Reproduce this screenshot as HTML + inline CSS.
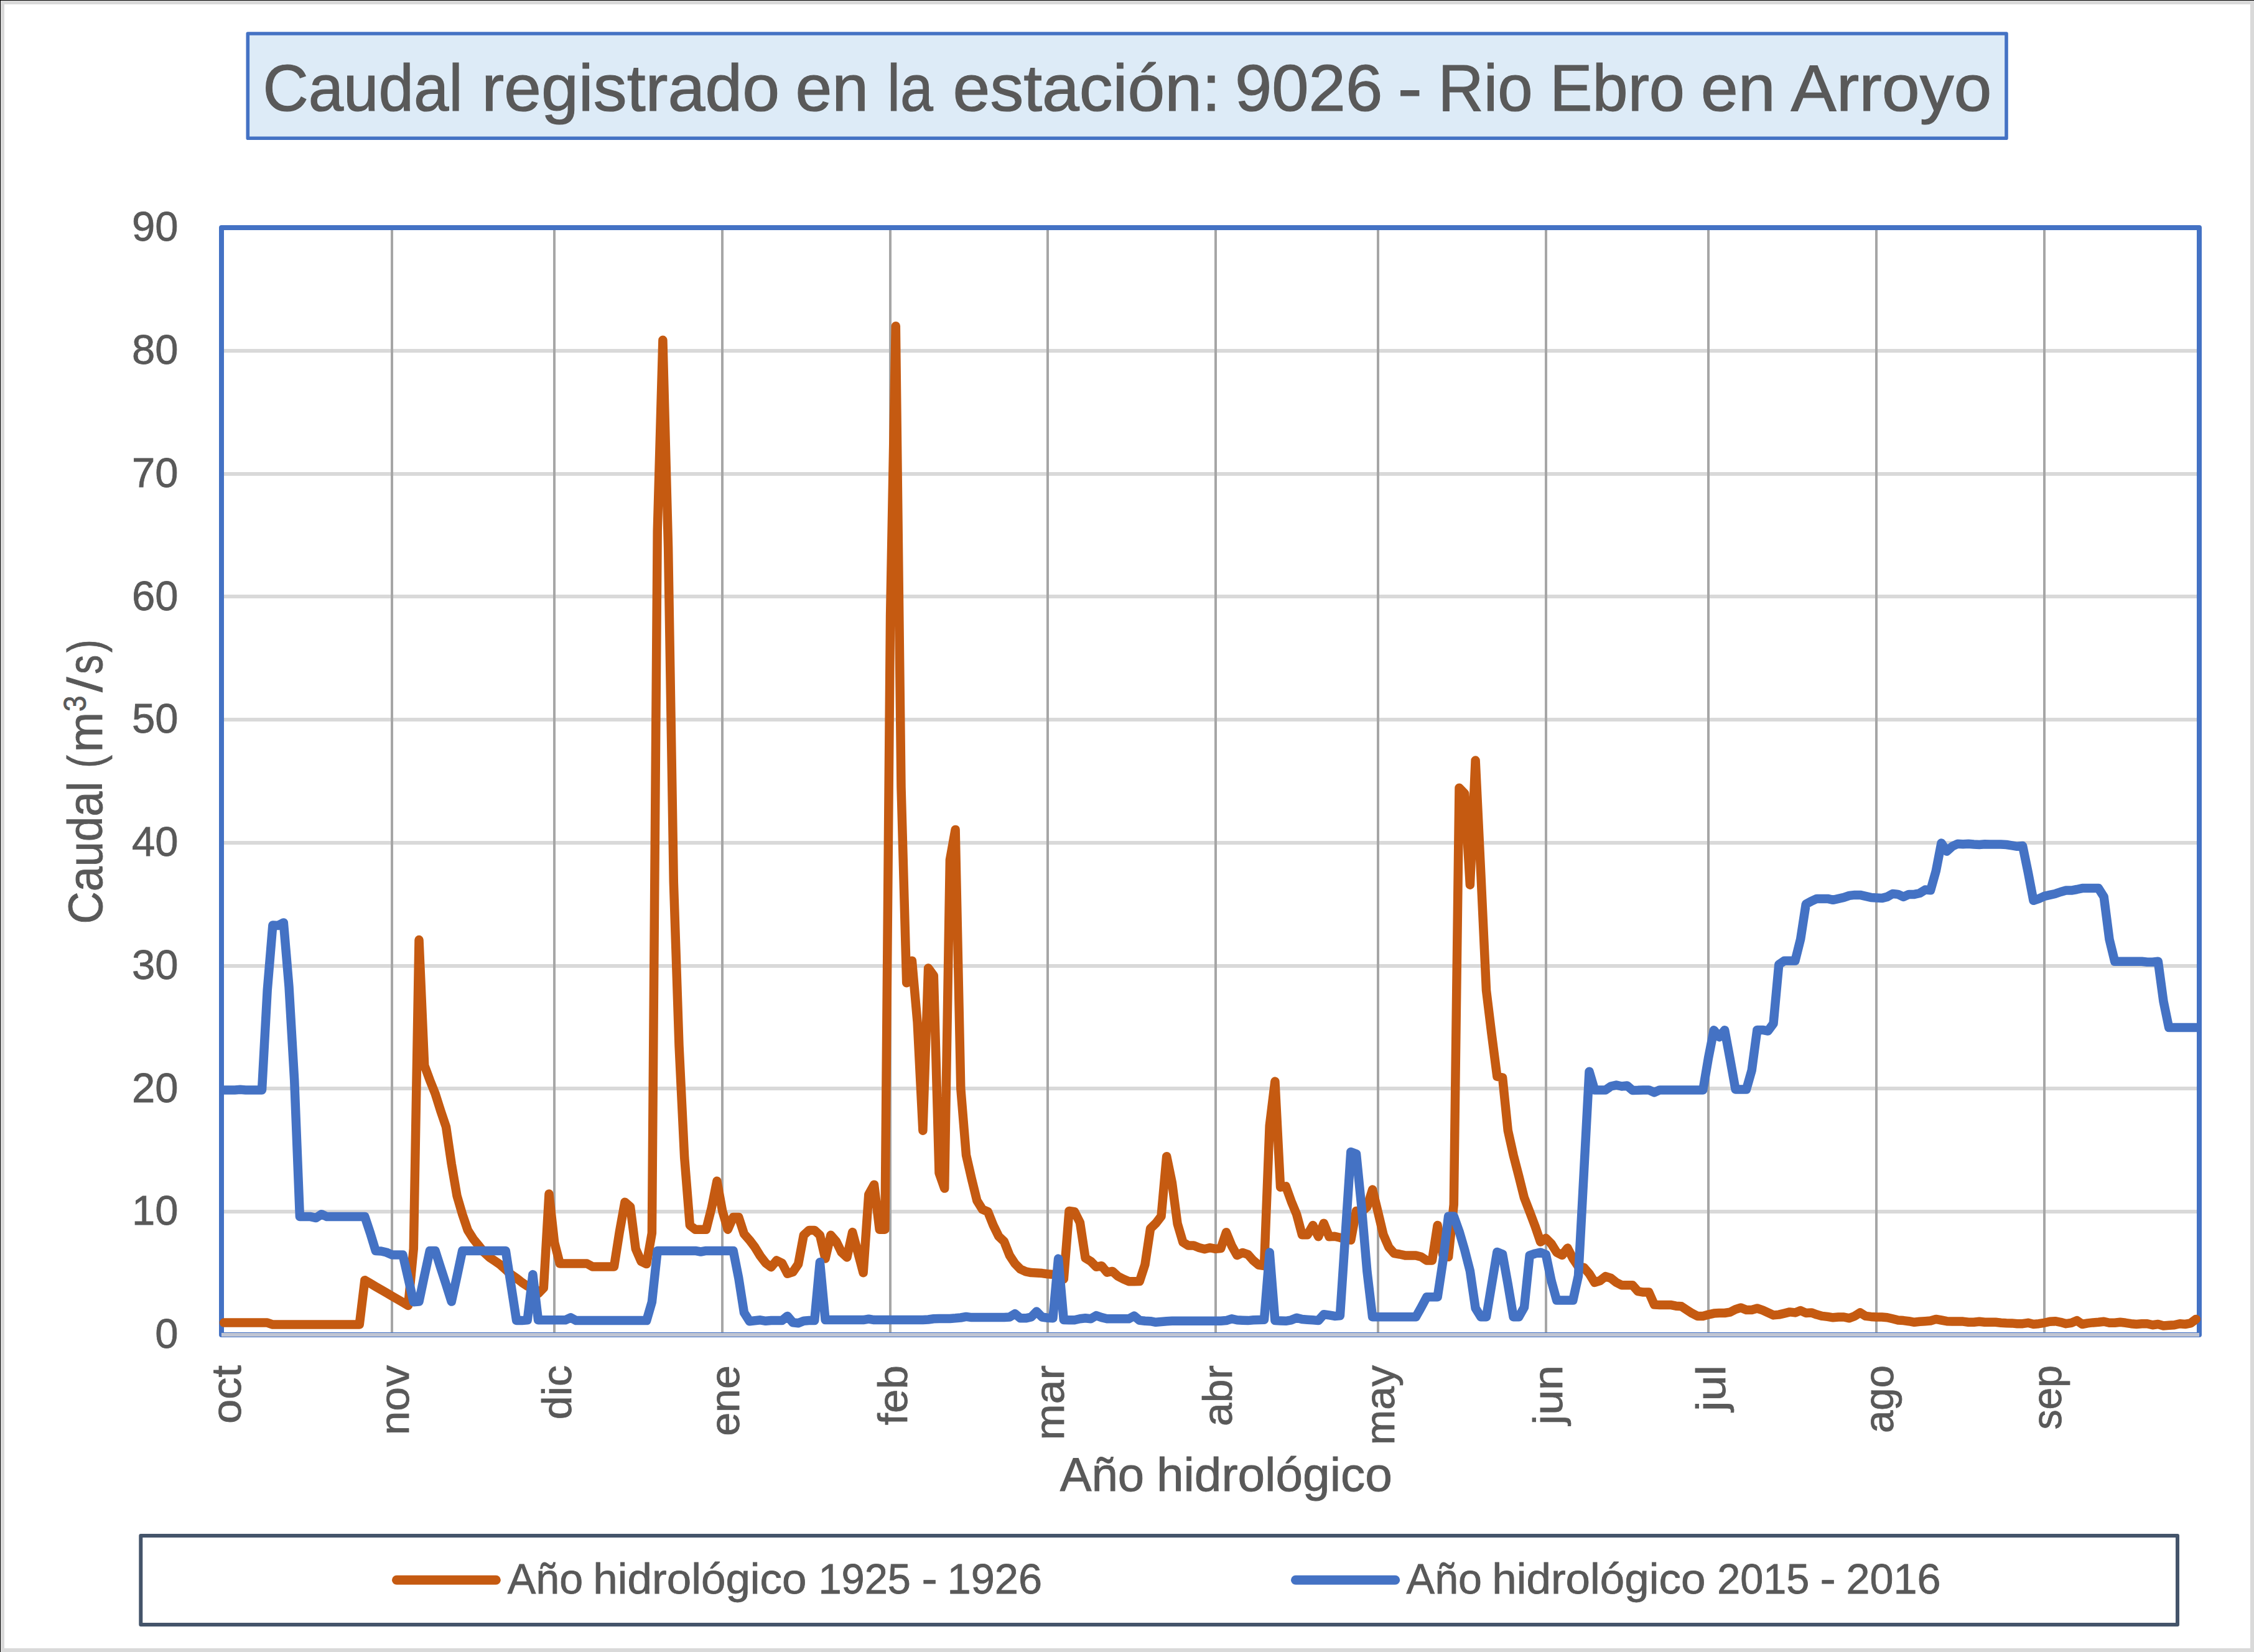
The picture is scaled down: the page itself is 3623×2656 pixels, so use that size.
<!DOCTYPE html>
<html lang="es"><head><meta charset="utf-8"><title>Caudal registrado en la estación: 9026 - Rio Ebro en Arroyo</title>
<style>html,body{margin:0;padding:0;background:#fff;}body{width:3623px;height:2656px;overflow:hidden;}svg{display:block;}text{font-family:"Liberation Sans", sans-serif;fill:#595959;}</style>
</head><body>
<svg width="3623" height="2656" viewBox="0 0 3623 2656">
<rect x="0" y="0" width="3623" height="2656" fill="#ffffff"/>
<rect x="4" y="4" width="3616" height="2649" fill="none" stroke="#D9D9D9" stroke-width="6"/>
<rect x="0" y="0" width="3623" height="1" fill="#000"/>
<rect x="0" y="0" width="1" height="2656" fill="#000"/>
<rect x="398.3" y="54" width="2826.7" height="168.2" fill="#DDEBF7" stroke="#4472C4" stroke-width="5.6" stroke-linejoin="round"/>
<text y="178.2" font-size="106" stroke="#595959" stroke-width="1.2"><tspan x="422.4" textLength="321.5" lengthAdjust="spacingAndGlyphs">Caudal</tspan> <tspan x="774.2" textLength="479.0" lengthAdjust="spacingAndGlyphs">registrado</tspan> <tspan x="1278.4" textLength="117.7" lengthAdjust="spacingAndGlyphs">en</tspan> <tspan x="1426.0" textLength="73.9" lengthAdjust="spacingAndGlyphs">la</tspan> <tspan x="1531.6" textLength="430.4" lengthAdjust="spacingAndGlyphs">estación:</tspan> <tspan x="1984.9" textLength="237.4" lengthAdjust="spacingAndGlyphs">9026</tspan> <tspan x="2246.5" textLength="39.5" lengthAdjust="spacingAndGlyphs">-</tspan> <tspan x="2311.6" textLength="152.1" lengthAdjust="spacingAndGlyphs">Rio</tspan> <tspan x="2491.1" textLength="216.8" lengthAdjust="spacingAndGlyphs">Ebro</tspan> <tspan x="2733.7" textLength="120.1" lengthAdjust="spacingAndGlyphs">en</tspan> <tspan x="2878.6" textLength="322.8" lengthAdjust="spacingAndGlyphs">Arroyo</tspan></text>
<rect x="356" y="1945" width="3179" height="6" fill="#D9D9D9"/>
<rect x="356" y="1747" width="3179" height="6" fill="#D9D9D9"/>
<rect x="356" y="1550" width="3179" height="6" fill="#D9D9D9"/>
<rect x="356" y="1352" width="3179" height="6" fill="#D9D9D9"/>
<rect x="356" y="1154" width="3179" height="6" fill="#D9D9D9"/>
<rect x="356" y="956" width="3179" height="6" fill="#D9D9D9"/>
<rect x="356" y="759" width="3179" height="6" fill="#D9D9D9"/>
<rect x="356" y="561" width="3179" height="6" fill="#D9D9D9"/>
<rect x="628" y="366" width="4" height="1780" fill="#A6A6A6"/>
<rect x="889" y="366" width="4" height="1780" fill="#A6A6A6"/>
<rect x="1159" y="366" width="4" height="1780" fill="#A6A6A6"/>
<rect x="1429" y="366" width="4" height="1780" fill="#A6A6A6"/>
<rect x="1682" y="366" width="4" height="1780" fill="#A6A6A6"/>
<rect x="1952" y="366" width="4" height="1780" fill="#A6A6A6"/>
<rect x="2213" y="366" width="4" height="1780" fill="#A6A6A6"/>
<rect x="2483" y="366" width="4" height="1780" fill="#A6A6A6"/>
<rect x="2744" y="366" width="4" height="1780" fill="#A6A6A6"/>
<rect x="3014" y="366" width="4" height="1780" fill="#A6A6A6"/>
<rect x="3284" y="366" width="4" height="1780" fill="#A6A6A6"/>
<rect x="356" y="366" width="3179" height="1780" fill="none" stroke="#4472C4" stroke-width="8" stroke-linejoin="round"/>
<rect x="356" y="2143" width="3179" height="6" fill="#C0C5D2"/>
<clipPath id="pc"><rect x="350" y="360" width="3189" height="1792"/></clipPath>
<g clip-path="url(#pc)">
<polyline points="360.0,2126.6 368.7,2126.6 377.4,2126.6 386.1,2126.6 394.8,2126.6 403.5,2126.6 412.2,2126.6 421.0,2126.6 429.7,2126.6 438.4,2129.6 447.1,2129.6 455.8,2129.6 464.5,2129.6 473.2,2129.6 481.9,2129.6 490.6,2129.6 499.3,2129.6 508.0,2129.6 516.7,2129.6 525.5,2129.6 534.2,2129.6 542.9,2129.6 551.6,2129.6 560.3,2129.6 569.0,2129.6 577.7,2129.6 586.4,2058.2 595.1,2063.3 603.8,2068.4 612.5,2073.5 621.2,2078.6 630.0,2083.7 638.7,2088.7 647.4,2093.8 656.1,2098.9 664.8,2007.6 673.5,1511.1 682.2,1712.9 690.9,1736.6 699.6,1758.4 708.3,1786.0 717.0,1811.8 725.7,1871.1 734.5,1922.5 743.2,1952.2 751.9,1977.9 760.6,1991.7 769.3,2002.4 778.0,2013.5 786.7,2021.4 795.4,2027.3 804.1,2033.3 812.8,2041.2 821.5,2049.1 830.2,2055.0 839.0,2061.9 847.7,2067.7 856.4,2071.8 865.1,2079.7 873.8,2070.8 882.5,1919.5 891.2,1997.7 899.9,2031.5 908.6,2031.5 917.3,2031.5 926.0,2031.5 934.7,2031.5 943.4,2031.5 952.2,2036.4 960.9,2036.4 969.6,2036.4 978.3,2036.4 987.0,2036.4 995.7,1981.1 1004.4,1932.8 1013.1,1940.3 1021.8,2007.9 1030.5,2027.9 1039.2,2032.1 1047.9,1982.4 1056.7,854.5 1065.4,546.8 1074.1,880.2 1082.8,1418.2 1091.5,1681.2 1100.2,1861.2 1108.9,1970.0 1117.6,1976.7 1126.3,1976.7 1135.0,1976.7 1143.7,1942.3 1152.4,1898.8 1161.2,1947.0 1169.9,1976.7 1178.6,1956.9 1187.3,1956.9 1196.0,1983.8 1204.7,1993.7 1213.4,2005.2 1222.1,2019.4 1230.8,2030.7 1239.5,2037.2 1248.2,2026.5 1256.9,2030.7 1265.7,2047.7 1274.4,2045.1 1283.1,2032.3 1291.8,1985.8 1300.5,1977.9 1309.2,1977.9 1317.9,1985.8 1326.6,2023.4 1335.3,1985.8 1344.0,1995.7 1352.7,2013.5 1361.4,2021.4 1370.2,1981.1 1378.9,2013.5 1387.6,2046.3 1396.3,1920.5 1405.0,1904.7 1413.7,1976.7 1422.4,1976.7 1431.1,989.0 1439.8,524.2 1448.5,1265.9 1457.2,1580.3 1465.9,1544.7 1474.6,1643.6 1483.4,1817.7 1492.1,1556.6 1500.8,1568.5 1509.5,1885.9 1518.2,1910.6 1526.9,1382.6 1535.6,1333.9 1544.3,1750.4 1553.0,1857.2 1561.7,1895.2 1570.4,1930.4 1579.1,1944.3 1587.9,1948.2 1596.6,1970.0 1605.3,1987.8 1614.0,1996.1 1622.7,2018.2 1631.4,2031.5 1640.1,2040.4 1648.8,2044.3 1657.5,2046.1 1666.2,2046.5 1674.9,2047.1 1683.6,2048.3 1692.4,2048.9 1701.1,2052.1 1709.8,2056.4 1718.5,1947.0 1727.2,1948.2 1735.9,1965.4 1744.6,2022.6 1753.3,2027.9 1762.0,2036.8 1770.7,2035.2 1779.4,2045.7 1788.1,2043.9 1796.9,2051.9 1805.6,2056.4 1814.3,2060.2 1823.0,2060.2 1831.7,2060.0 1840.4,2033.3 1849.1,1975.3 1857.8,1966.8 1866.5,1955.5 1875.2,1859.2 1883.9,1901.5 1892.6,1967.4 1901.4,1997.1 1910.1,2002.6 1918.8,2002.6 1927.5,2006.0 1936.2,2008.3 1944.9,2006.0 1953.6,2007.8 1962.3,2007.0 1971.0,1981.2 1979.7,2002.6 1988.4,2018.2 1997.1,2013.9 2005.8,2016.8 2014.6,2026.7 2023.3,2033.9 2032.0,2035.2 2040.7,1809.8 2049.4,1738.6 2058.1,1908.7 2066.8,1907.3 2075.5,1931.4 2084.2,1952.6 2092.9,1985.2 2101.6,1985.2 2110.3,1970.0 2119.1,1988.2 2127.8,1966.8 2136.5,1988.2 2145.2,1987.8 2153.9,1989.8 2162.6,1992.3 2171.3,1993.7 2180.0,1947.0 2188.7,1948.2 2197.4,1940.3 2206.1,1912.6 2214.8,1948.2 2223.6,1985.2 2232.3,2005.2 2241.0,2015.1 2249.7,2016.5 2258.4,2018.4 2267.1,2018.4 2275.8,2018.4 2284.5,2020.8 2293.2,2026.5 2301.9,2026.5 2310.6,1970.0 2319.3,2017.4 2328.1,2020.8 2336.8,1936.4 2345.5,1266.7 2354.2,1275.8 2362.9,1422.7 2371.6,1222.6 2380.3,1404.3 2389.0,1592.2 2397.7,1663.4 2406.4,1730.7 2415.1,1732.6 2423.8,1817.7 2432.6,1857.2 2441.3,1890.9 2450.0,1925.7 2458.7,1948.2 2467.4,1971.2 2476.1,1996.7 2484.8,1990.9 2493.5,1999.6 2502.2,2013.5 2510.9,2018.0 2519.6,2006.6 2528.3,2023.4 2537.0,2036.4 2545.8,2037.8 2554.5,2047.7 2563.2,2061.9 2571.9,2059.0 2580.6,2052.1 2589.3,2055.0 2598.0,2061.9 2606.7,2066.3 2615.4,2066.3 2624.1,2066.3 2632.8,2076.2 2641.5,2077.6 2650.3,2077.6 2659.0,2097.5 2667.7,2097.9 2676.4,2097.9 2685.1,2097.9 2693.8,2099.7 2702.5,2100.3 2711.2,2106.0 2719.9,2111.6 2728.6,2115.9 2737.3,2115.9 2746.0,2113.6 2754.8,2111.6 2763.5,2111.0 2772.2,2111.0 2780.9,2109.6 2789.6,2105.1 2798.3,2102.5 2807.0,2106.0 2815.7,2106.0 2824.4,2103.5 2833.1,2106.4 2841.8,2110.4 2850.5,2114.4 2859.3,2113.6 2868.0,2111.6 2876.7,2109.4 2885.4,2110.4 2894.1,2107.0 2902.8,2111.0 2911.5,2110.4 2920.2,2113.6 2928.9,2115.9 2937.6,2116.9 2946.3,2118.3 2955.0,2117.5 2963.8,2117.5 2972.5,2119.3 2981.2,2115.9 2989.9,2110.4 2998.6,2115.9 3007.3,2116.9 3016.0,2117.5 3024.7,2117.5 3033.4,2118.3 3042.1,2120.3 3050.8,2122.5 3059.5,2123.1 3068.3,2124.2 3077.0,2125.8 3085.7,2124.8 3094.4,2124.2 3103.1,2123.5 3111.8,2120.9 3120.5,2122.5 3129.2,2124.2 3137.9,2124.6 3146.6,2124.6 3155.3,2124.6 3164.0,2125.8 3172.7,2125.8 3181.5,2124.8 3190.2,2125.8 3198.9,2125.8 3207.6,2125.8 3216.3,2126.8 3225.0,2127.2 3233.7,2127.4 3242.4,2128.2 3251.1,2128.2 3259.8,2126.8 3268.5,2129.0 3277.2,2128.2 3286.0,2126.8 3294.7,2124.8 3303.4,2124.2 3312.1,2125.8 3320.8,2128.2 3329.5,2126.8 3338.2,2123.1 3346.9,2129.0 3355.6,2127.4 3364.3,2126.4 3373.0,2125.8 3381.7,2124.8 3390.5,2126.8 3399.2,2126.8 3407.9,2125.8 3416.6,2126.8 3425.3,2128.2 3434.0,2129.0 3442.7,2128.2 3451.4,2128.2 3460.1,2130.2 3468.8,2129.0 3477.5,2131.4 3486.2,2130.8 3495.0,2130.2 3503.7,2128.2 3512.4,2129.0 3521.1,2127.4 3529.8,2120.9" fill="none" stroke="#C55A11" stroke-width="14.5" stroke-linejoin="round" stroke-linecap="round"/>
<polyline points="360.0,1752.4 368.7,1752.4 377.4,1752.4 386.1,1751.8 394.8,1752.4 403.5,1752.4 412.2,1752.4 421.0,1752.4 429.7,1592.2 438.4,1487.4 447.1,1488.0 455.8,1483.4 464.5,1586.3 473.2,1736.6 481.9,1956.1 490.6,1956.1 499.3,1956.1 508.0,1958.1 516.7,1952.2 525.5,1956.1 534.2,1956.1 542.9,1956.1 551.6,1956.1 560.3,1956.1 569.0,1956.1 577.7,1956.1 586.4,1956.1 595.1,1982.4 603.8,2010.9 612.5,2011.5 621.2,2013.5 630.0,2017.4 638.7,2017.4 647.4,2017.4 656.1,2055.0 664.8,2093.2 673.5,2092.6 682.2,2051.1 690.9,2010.9 699.6,2010.9 708.3,2038.2 717.0,2064.9 725.7,2092.6 734.5,2052.1 743.2,2010.9 751.9,2010.9 760.6,2010.9 769.3,2010.9 778.0,2010.9 786.7,2010.9 795.4,2010.9 804.1,2010.9 812.8,2010.9 821.5,2066.9 830.2,2123.1 839.0,2123.1 847.7,2122.3 856.4,2049.1 865.1,2122.3 873.8,2122.3 882.5,2122.3 891.2,2122.3 899.9,2122.3 908.6,2122.3 917.3,2118.3 926.0,2123.1 934.7,2123.1 943.4,2123.1 952.2,2123.1 960.9,2123.1 969.6,2123.1 978.3,2123.1 987.0,2123.1 995.7,2123.1 1004.4,2123.1 1013.1,2123.1 1021.8,2123.1 1030.5,2123.1 1039.2,2123.1 1047.9,2093.2 1056.7,2010.9 1065.4,2010.9 1074.1,2010.9 1082.8,2010.9 1091.5,2010.9 1100.2,2010.9 1108.9,2010.9 1117.6,2010.9 1126.3,2012.5 1135.0,2010.9 1143.7,2010.9 1152.4,2010.9 1161.2,2010.9 1169.9,2010.9 1178.6,2010.9 1187.3,2055.0 1196.0,2110.4 1204.7,2124.2 1213.4,2123.3 1222.1,2122.3 1230.8,2123.8 1239.5,2123.1 1248.2,2123.1 1256.9,2123.1 1265.7,2115.9 1274.4,2126.2 1283.1,2127.2 1291.8,2123.7 1300.5,2123.1 1309.2,2123.1 1317.9,2029.3 1326.6,2122.1 1335.3,2122.1 1344.0,2122.1 1352.7,2122.1 1361.4,2122.1 1370.2,2122.1 1378.9,2122.1 1387.6,2122.1 1396.3,2120.7 1405.0,2122.1 1413.7,2122.1 1422.4,2122.1 1431.1,2122.1 1439.8,2122.1 1448.5,2122.1 1457.2,2122.1 1465.9,2122.1 1474.6,2122.1 1483.4,2122.1 1492.1,2121.5 1500.8,2120.3 1509.5,2119.9 1518.2,2119.9 1526.9,2119.9 1535.6,2119.3 1544.3,2118.5 1553.0,2116.9 1561.7,2118.1 1570.4,2118.1 1579.1,2118.1 1587.9,2118.1 1596.6,2118.1 1605.3,2118.1 1614.0,2118.1 1622.7,2117.5 1631.4,2112.2 1640.1,2119.3 1648.8,2119.3 1657.5,2117.5 1666.2,2108.6 1674.9,2117.5 1683.6,2118.7 1692.4,2119.3 1701.1,2023.6 1709.8,2122.0 1718.5,2122.3 1727.2,2122.3 1735.9,2120.3 1744.6,2119.3 1753.3,2120.3 1762.0,2115.1 1770.7,2118.1 1779.4,2120.3 1788.1,2120.3 1796.9,2120.3 1805.6,2120.3 1814.3,2120.3 1823.0,2115.7 1831.7,2122.9 1840.4,2123.8 1849.1,2124.2 1857.8,2125.8 1866.5,2125.0 1875.2,2124.2 1883.9,2123.7 1892.6,2123.7 1901.4,2123.7 1910.1,2123.7 1918.8,2123.7 1927.5,2123.7 1936.2,2123.7 1944.9,2123.7 1953.6,2123.7 1962.3,2123.7 1971.0,2123.1 1979.7,2120.3 1988.4,2122.3 1997.1,2122.7 2005.8,2123.1 2014.6,2122.3 2023.3,2121.9 2032.0,2121.7 2040.7,2013.5 2049.4,2123.1 2058.1,2123.5 2066.8,2123.8 2075.5,2122.3 2084.2,2118.7 2092.9,2121.1 2101.6,2121.7 2110.3,2122.3 2119.1,2123.1 2127.8,2113.2 2136.5,2114.4 2145.2,2115.9 2153.9,2115.3 2162.6,1983.8 2171.3,1851.9 2180.0,1855.3 2188.7,1942.3 2197.4,2044.1 2206.1,2117.3 2214.8,2117.3 2223.6,2117.3 2232.3,2117.3 2241.0,2117.3 2249.7,2117.3 2258.4,2117.3 2267.1,2117.3 2275.8,2117.3 2284.5,2101.7 2293.2,2085.3 2301.9,2085.3 2310.6,2085.3 2319.3,2027.9 2328.1,1955.5 2336.8,1955.5 2345.5,1979.9 2354.2,2009.5 2362.9,2043.5 2371.6,2103.1 2380.3,2117.3 2389.0,2117.3 2397.7,2064.9 2406.4,2012.9 2415.1,2016.5 2423.8,2064.9 2432.6,2117.3 2441.3,2117.3 2450.0,2101.7 2458.7,2018.4 2467.4,2015.5 2476.1,2013.5 2484.8,2017.0 2493.5,2059.0 2502.2,2090.6 2510.9,2090.6 2519.6,2090.6 2528.3,2090.6 2537.0,2051.1 2545.8,1886.9 2554.5,1722.8 2563.2,1752.4 2571.9,1752.4 2580.6,1752.4 2589.3,1746.5 2598.0,1744.5 2606.7,1746.5 2615.4,1745.5 2624.1,1753.0 2632.8,1752.8 2641.5,1752.4 2650.3,1752.4 2659.0,1756.4 2667.7,1752.4 2676.4,1752.4 2685.1,1752.4 2693.8,1752.4 2702.5,1752.4 2711.2,1752.4 2719.9,1752.4 2728.6,1752.4 2737.3,1752.4 2746.0,1701.0 2754.8,1656.3 2763.5,1667.4 2772.2,1656.3 2780.9,1703.0 2789.6,1751.4 2798.3,1751.4 2807.0,1751.4 2815.7,1720.8 2824.4,1655.9 2833.1,1655.9 2841.8,1657.5 2850.5,1645.6 2859.3,1550.7 2868.0,1544.7 2876.7,1544.7 2885.4,1544.7 2894.1,1510.1 2902.8,1453.6 2911.5,1448.8 2920.2,1444.9 2928.9,1444.9 2937.6,1444.9 2946.3,1446.8 2955.0,1444.9 2963.8,1442.9 2972.5,1439.9 2981.2,1438.9 2989.9,1438.9 2998.6,1440.9 3007.3,1442.9 3016.0,1443.5 3024.7,1444.1 3033.4,1441.9 3042.1,1437.0 3050.8,1437.9 3059.5,1441.9 3068.3,1437.9 3077.0,1437.9 3085.7,1436.0 3094.4,1430.6 3103.1,1431.2 3111.8,1400.4 3120.5,1355.5 3129.2,1368.7 3137.9,1360.8 3146.6,1356.7 3155.3,1357.3 3164.0,1356.7 3172.7,1357.5 3181.5,1358.0 3190.2,1357.3 3198.9,1357.5 3207.6,1357.5 3216.3,1357.5 3225.0,1358.0 3233.7,1359.4 3242.4,1360.8 3251.1,1360.0 3259.8,1402.3 3268.5,1447.8 3277.2,1444.9 3286.0,1440.9 3294.7,1438.9 3303.4,1437.0 3312.1,1434.0 3320.8,1431.6 3329.5,1431.6 3338.2,1430.0 3346.9,1428.1 3355.6,1428.1 3364.3,1428.1 3373.0,1428.1 3381.7,1441.9 3390.5,1510.1 3399.2,1545.7 3407.9,1545.7 3416.6,1545.7 3425.3,1545.7 3434.0,1545.7 3442.7,1545.7 3451.4,1546.7 3460.1,1546.7 3468.8,1545.7 3477.5,1610.0 3486.2,1652.1 3495.0,1652.1 3503.7,1652.1 3512.4,1652.1 3521.1,1652.1 3529.8,1652.1 3538.5,1652.1" fill="none" stroke="#4472C4" stroke-width="14.5" stroke-linejoin="round" stroke-linecap="round"/>
</g>
<text x="286.6" y="2167.2" font-size="67" text-anchor="end" stroke="#595959" stroke-width="0.8">0</text>
<text x="286.6" y="1969.4" font-size="67" text-anchor="end" stroke="#595959" stroke-width="0.8">10</text>
<text x="286.6" y="1771.6" font-size="67" text-anchor="end" stroke="#595959" stroke-width="0.8">20</text>
<text x="286.6" y="1573.9" font-size="67" text-anchor="end" stroke="#595959" stroke-width="0.8">30</text>
<text x="286.6" y="1376.1" font-size="67" text-anchor="end" stroke="#595959" stroke-width="0.8">40</text>
<text x="286.6" y="1178.3" font-size="67" text-anchor="end" stroke="#595959" stroke-width="0.8">50</text>
<text x="286.6" y="980.5" font-size="67" text-anchor="end" stroke="#595959" stroke-width="0.8">60</text>
<text x="286.6" y="782.7" font-size="67" text-anchor="end" stroke="#595959" stroke-width="0.8">70</text>
<text x="286.6" y="585.0" font-size="67" text-anchor="end" stroke="#595959" stroke-width="0.8">80</text>
<text x="286.6" y="387.2" font-size="67" text-anchor="end" stroke="#595959" stroke-width="0.8">90</text>
<text transform="translate(164.4,1500) rotate(-90)" font-size="77" stroke="#595959" stroke-width="0.9"><tspan x="14.5" textLength="228.9" lengthAdjust="spacingAndGlyphs" font-size="77">Caudal</tspan> <tspan x="265.3" textLength="20.5" lengthAdjust="spacingAndGlyphs" font-size="77">(</tspan><tspan x="290.4" textLength="64.7" lengthAdjust="spacingAndGlyphs" font-size="77">m</tspan><tspan x="355.9" textLength="25.6" lengthAdjust="spacingAndGlyphs" font-size="50" dy="-26">3</tspan><tspan x="387.2" textLength="24.0" lengthAdjust="spacingAndGlyphs" font-size="77" dy="26">/</tspan><tspan x="416.2" textLength="30.8" lengthAdjust="spacingAndGlyphs" font-size="77">s</tspan><tspan x="451.2" textLength="20.5" lengthAdjust="spacingAndGlyphs" font-size="77">)</tspan></text>
<text transform="translate(386.5,2195) rotate(-90) scale(1.048,1)" font-size="67.3" text-anchor="end" stroke="#595959" stroke-width="0.8">oct</text>
<text transform="translate(656.5,2195) rotate(-90) scale(1.036,1)" font-size="67.3" text-anchor="end" stroke="#595959" stroke-width="0.8">nov</text>
<text transform="translate(917.7,2195) rotate(-90) scale(1.013,1)" font-size="67.3" text-anchor="end" stroke="#595959" stroke-width="0.8">dic</text>
<text transform="translate(1187.7,2195) rotate(-90) scale(1.014,1)" font-size="67.3" text-anchor="end" stroke="#595959" stroke-width="0.8">ene</text>
<text transform="translate(1457.6,2195) rotate(-90) scale(1.030,1)" font-size="67.3" text-anchor="end" stroke="#595959" stroke-width="0.8">feb</text>
<text transform="translate(1710.1,2195) rotate(-90) scale(1.039,1)" font-size="67.3" text-anchor="end" stroke="#595959" stroke-width="0.8">mar</text>
<text transform="translate(1980.1,2195) rotate(-90) scale(1.008,1)" font-size="67.3" text-anchor="end" stroke="#595959" stroke-width="0.8">abr</text>
<text transform="translate(2241.3,2195) rotate(-90) scale(1.009,1)" font-size="67.3" text-anchor="end" stroke="#595959" stroke-width="0.8">may</text>
<text transform="translate(2511.3,2195) rotate(-90) scale(1.067,1)" font-size="67.3" text-anchor="end" stroke="#595959" stroke-width="0.8">jun</text>
<text transform="translate(2772.5,2195) rotate(-90) scale(1.100,1)" font-size="67.3" text-anchor="end" stroke="#595959" stroke-width="0.8">jul</text>
<text transform="translate(3042.5,2195) rotate(-90) scale(0.971,1)" font-size="67.3" text-anchor="end" stroke="#595959" stroke-width="0.8">ago</text>
<text transform="translate(3312.5,2195) rotate(-90) scale(0.954,1)" font-size="67.3" text-anchor="end" stroke="#595959" stroke-width="0.8">sep</text>
<text y="2397.0" font-size="75.5" stroke="#595959" stroke-width="0.9"><tspan x="1703.8" textLength="135.4" lengthAdjust="spacingAndGlyphs">Año</tspan> <tspan x="1858.9" textLength="378.9" lengthAdjust="spacingAndGlyphs">hidrológico</tspan></text>
<rect x="226.3" y="2469" width="3273.7" height="143" fill="#fff" stroke="#44546A" stroke-width="6" stroke-linejoin="round"/>
<line x1="637.5" y1="2540.2" x2="797.3" y2="2540.2" stroke="#C55A11" stroke-width="15" stroke-linecap="round"/>
<text y="2562.3" font-size="67.6" stroke="#595959" stroke-width="0.8"><tspan x="815.7" textLength="121.5" lengthAdjust="spacingAndGlyphs">Año</tspan> <tspan x="953.3" textLength="343.3" lengthAdjust="spacingAndGlyphs">hidrológico</tspan> <tspan x="1315.4" textLength="148.6" lengthAdjust="spacingAndGlyphs">1925</tspan> <tspan x="1481.6" textLength="25.2" lengthAdjust="spacingAndGlyphs">-</tspan> <tspan x="1522.6" textLength="152.5" lengthAdjust="spacingAndGlyphs">1926</tspan></text>
<line x1="2082.5" y1="2540.2" x2="2242.7" y2="2540.2" stroke="#4472C4" stroke-width="15" stroke-linecap="round"/>
<text y="2562.3" font-size="67.6" stroke="#595959" stroke-width="0.8"><tspan x="2260.6" textLength="121.5" lengthAdjust="spacingAndGlyphs">Año</tspan> <tspan x="2398.2" textLength="343.3" lengthAdjust="spacingAndGlyphs">hidrológico</tspan> <tspan x="2760.2" textLength="148.1" lengthAdjust="spacingAndGlyphs">2015</tspan> <tspan x="2925.6" textLength="25.2" lengthAdjust="spacingAndGlyphs">-</tspan> <tspan x="2967.6" textLength="152.0" lengthAdjust="spacingAndGlyphs">2016</tspan></text>
</svg></body></html>
